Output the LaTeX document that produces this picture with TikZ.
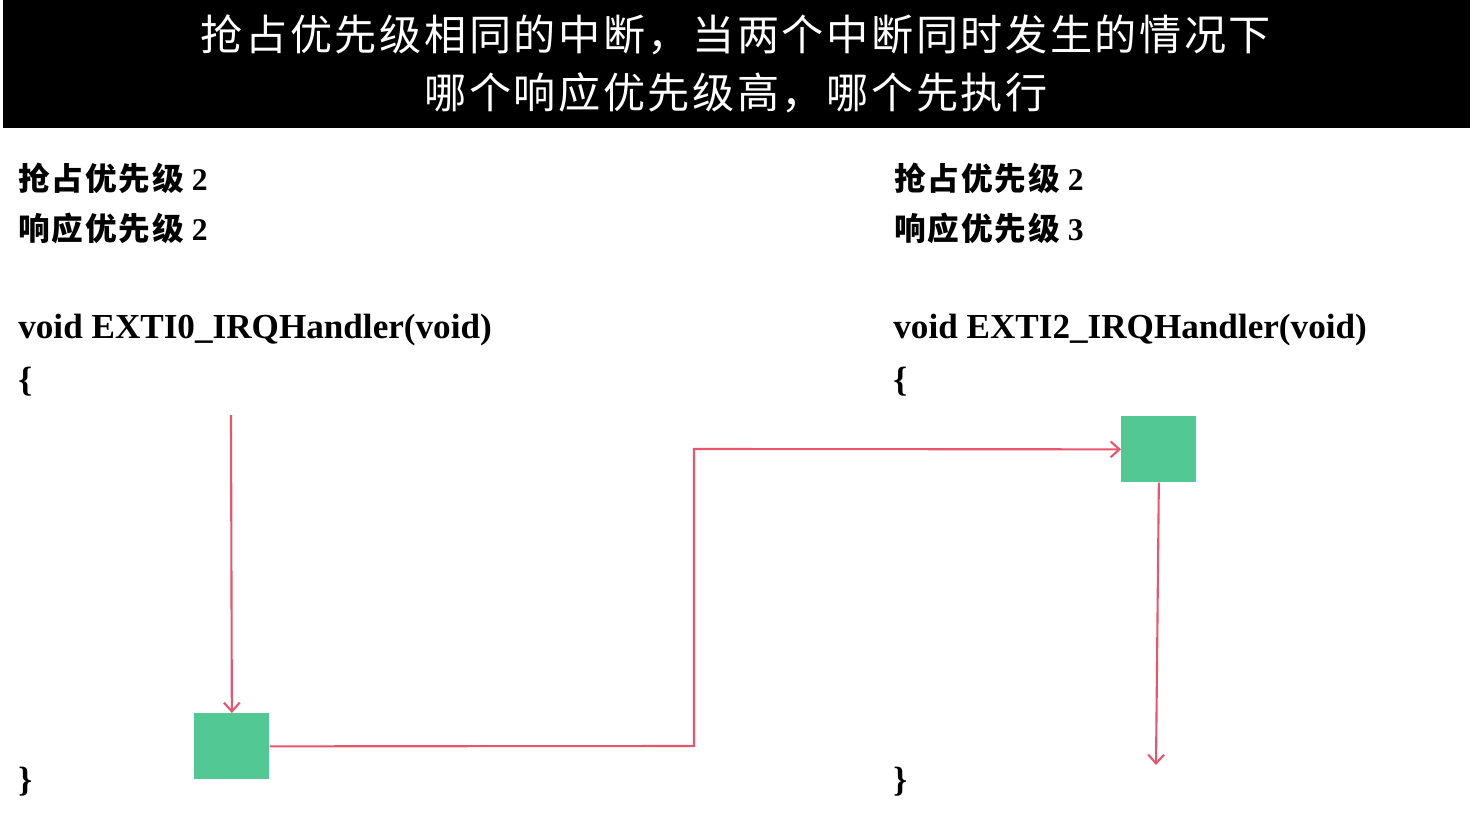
\documentclass[tikz,border=0pt]{standalone}
\usepackage{fontspec}
\setmainfont{Liberation Serif}
\newfontfamily\cjk{Noto Sans CJK SC}
\newfontfamily\cjkt[LetterSpace=6]{Noto Sans CJK SC}
\usetikzlibrary{arrows.meta}
\begin{document}
\begin{tikzpicture}[x=0.02cm,y=-0.02cm,
  sq/.style={fill={rgb,255:red,82;green,201;blue,149},minimum width=1.5cm,minimum height=1.32cm,inner sep=0,anchor=north west},
  arr/.style={draw={rgb,255:red,232;green,86;blue,110},line width=1.2pt,-{Straight Barb[length=5pt,width=9pt]}},
  ln/.style={draw={rgb,255:red,232;green,86;blue,110},line width=1.2pt},
  lab/.style={anchor=west,inner sep=0,font=\fontsize{18}{22}\selectfont\bfseries},
  code/.style={anchor=west,inner sep=0,font=\fontsize{20}{24}\selectfont\bfseries}]
\useasboundingbox (0,0) rectangle (1473,818);
\fill[black] (3,0) rectangle (1470,128);
\node[text=white,align=center,font=\fontsize{24}{33}\selectfont\cjkt] (t) at (736,64) {抢占优先级相同的中断，当两个中断同时发生的情况下\\哪个响应优先级高，哪个先执行};
\node[lab] (a1) at (18,178) {{\cjkt 抢占优先级} 2};
\node[lab] (a2) at (18,228) {{\cjkt 响应优先级} 2};
\node[lab] (b1) at (894,178) {{\cjkt 抢占优先级} 2};
\node[lab] (b2) at (894,228) {{\cjkt 响应优先级} 3};
\node[code] (c1) at (18,330) {void EXTI0\_IRQHandler(void)};
\node[code] (c2) at (18,382) {\{};
\node[code] (c3) at (18,782) {\}};
\node[code] (d1) at (893,330) {void EXTI2\_IRQHandler(void)};
\node[code] (d2) at (893,382) {\{};
\node[code] (d3) at (893,782) {\}};
\node[sq] (s1) at (194,713) {};
\node[sq] (s2) at (1121,416) {};
\coordinate (p0) at (231,415);
\coordinate (p1) at (1156,765);
\draw[arr] (p0) -- (s1.north);
\draw[arr] (s1.east) -- (694,746) -- (694,449) -- (s2.west);
\draw[arr] (s2.south) -- (p1);
\end{tikzpicture}
\end{document}
